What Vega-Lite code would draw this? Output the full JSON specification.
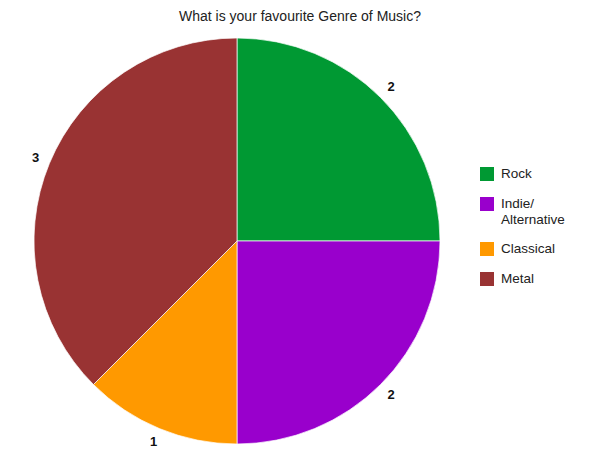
{
  "$schema": "https://vega.github.io/schema/vega-lite/v6.json",
  "autosize": "none",
  "width": 474,
  "height": 422,
  "padding": {"left": 0, "top": 30, "right": 126, "bottom": 11},
  "background": "white",
  "title": {
    "text": "What is your favourite Genre of Music?",
    "font": "Liberation Sans",
    "fontSize": 14,
    "fontWeight": "normal",
    "color": "#222222",
    "anchor": "middle",
    "dx": 63,
    "offset": 6
  },
  "data": {
    "values": [
      {"genre": "Rock", "count": 2, "ord": 1},
      {"genre": "Indie/Alternative", "count": 2, "ord": 2},
      {"genre": "Classical", "count": 1, "ord": 3},
      {"genre": "Metal", "count": 3, "ord": 4}
    ]
  },
  "encoding": {
    "theta": {"field": "count", "type": "quantitative", "stack": true},
    "order": {"field": "ord", "type": "quantitative"}
  },
  "layer": [
    {
      "mark": {"type": "arc", "radius": 203, "stroke": "white", "strokeWidth": 0.7},
      "encoding": {
        "color": {
          "field": "genre",
          "type": "nominal",
          "scale": {
            "domain": ["Rock", "Indie/Alternative", "Classical", "Metal"],
            "range": ["#009933", "#9900cc", "#ff9900", "#993333"]
          },
          "legend": {
            "title": null,
            "orient": "none",
            "legendX": 480,
            "legendY": 137,
            "symbolType": "square",
            "symbolSize": 196,
            "symbolStrokeWidth": 0,
            "labelFont": "Liberation Sans",
            "labelFontSize": 13.5,
            "labelColor": "#222222",
            "labelOffset": 7,
            "rowPadding": 16,
            "labelExpr": "datum.label == 'Indie/Alternative' ? ['Indie/', 'Alternative'] : datum.label"
          }
        }
      }
    },
    {
      "mark": {
        "type": "text",
        "radius": 218,
        "font": "Liberation Sans",
        "fontSize": 13,
        "fontWeight": "bold",
        "color": "#111111"
      },
      "encoding": {
        "text": {"field": "count", "type": "quantitative"}
      }
    }
  ]
}
